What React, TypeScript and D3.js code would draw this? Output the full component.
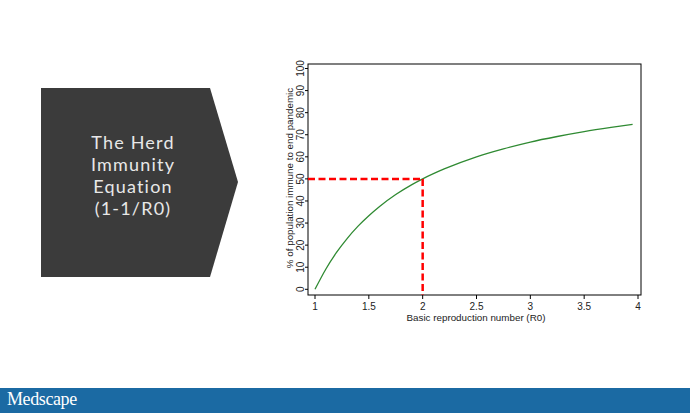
import React from "react";
import * as d3 from "d3";

const r0Values = [1, 1.1, 1.2, 1.3, 1.4, 1.5, 1.6, 1.75, 1.9, 2, 2.2, 2.5, 2.75, 3, 3.25, 3.5, 3.75, 3.95];
const immunePct = [0, 9.1, 16.7, 23.1, 28.6, 33.3, 37.5, 42.9, 47.4, 50, 54.5, 60, 63.6, 66.7, 69.2, 71.4, 73.3, 74.7];
const xTicks = [1, 1.5, 2, 2.5, 3, 3.5, 4];
const yTicks = [0, 10, 20, 30, 40, 50, 60, 70, 80, 90, 100];
const thresholdR0 = 2;
const thresholdPct = 50;
const boxLines = ["The Herd", "Immunity", "Equation", "(1-1/R0)"];
const xTitle = "Basic reproduction number (R0)";
const yTitle = "% of population immune to end pandemic";
const brand = "Medscape";

export default function App() {
  const x = d3.scaleLinear().domain([1, 4]).range([315, 638]);
  const y = d3.scaleLinear().domain([0, 100]).range([289.3, 68.5]);
  const pts = r0Values.map((v, i) => [v, immunePct[i]] as [number, number]);
  const line = d3
    .line<[number, number]>()
    .x((d) => x(d[0]))
    .y((d) => y(d[1]))
    .curve(d3.curveMonotoneX);
  const font = "'Liberation Sans', Arial, sans-serif";
  const frame = { l: 308, t: 64, r: 641, b: 295 };
  return (
    <svg
      width={690}
      height={413}
      style={{ position: "absolute", left: 0, top: 0, background: "#fff" }}
    >
      <rect x={0} y={0} width={690} height={413} fill="#fff" />
      {/* pentagon */}
      <path d="M41,88 L210,88 L238,182 L210,277 L41,277 Z" fill="#3b3b3b" />
      {boxLines.map((t, i) => (
        <text
          key={i}
          x={133}
          y={149 + i * 22}
          textAnchor="middle"
          fill="#e8e8e8"
          fontSize={18}
          letterSpacing={1.2}
          fontFamily="Lato, 'Open Sans', sans-serif"
          fontWeight={400}
        >
          {t}
        </text>
      ))}
      {/* frame */}
      <rect
        x={frame.l}
        y={frame.t}
        width={frame.r - frame.l}
        height={frame.b - frame.t}
        fill="none"
        stroke="#000"
        strokeWidth={1}
      />
      {/* y ticks */}
      {yTicks.map((t) => (
        <g key={"y" + t}>
          <line x1={frame.l - 3} x2={frame.l} y1={y(t)} y2={y(t)} stroke="#000" />
          <text
            transform={`translate(${frame.l - 4},${y(t)}) rotate(-90)`}
            textAnchor="middle"
            fontSize={10}
            fontFamily={font}
            fill="#222"
          >
            {t}
          </text>
        </g>
      ))}
      {/* x ticks */}
      {xTicks.map((t) => (
        <g key={"x" + t}>
          <line x1={x(t)} x2={x(t)} y1={frame.b} y2={frame.b + 4} stroke="#000" />
          <text
            x={x(t)}
            y={frame.b + 15}
            textAnchor="middle"
            fontSize={10}
            fontFamily={font}
            fill="#222"
          >
            {t}
          </text>
        </g>
      ))}
      <text
        x={476}
        y={321}
        textAnchor="middle"
        fontSize={9.8}
        fontFamily={font}
        fill="#222"
      >
        {xTitle}
      </text>
      <text
        transform={`translate(${292.5},${178}) rotate(-90)`}
        textAnchor="middle"
        fontSize={9.8}
        fontFamily={font}
        fill="#222"
      >
        {yTitle}
      </text>
      {/* curve */}
      <path d={line(pts) || ""} fill="none" stroke="#2f8a32" strokeWidth={1.3} />
      {/* threshold dashes */}
      <line
        x1={frame.l}
        x2={x(thresholdR0)}
        y1={y(thresholdPct)}
        y2={y(thresholdPct)}
        stroke="#ff0000"
        strokeWidth={2.5}
        strokeDasharray="7,3.5"
      />
      <line
        x1={x(thresholdR0)}
        x2={x(thresholdR0)}
        y1={y(thresholdPct)}
        y2={frame.b}
        stroke="#ff0000"
        strokeWidth={2.5}
        strokeDasharray="7,3.5"
      />
      {/* footer */}
      <rect x={0} y={388} width={690} height={25} fill="#1b6aa3" />
      <text
        x={7}
        y={405}
        fill="#fff"
        fontSize={18}
        fontFamily="'Liberation Serif', 'DejaVu Serif', serif"
        letterSpacing={-0.4}
      >
        {brand}
      </text>
    </svg>
  );
}
